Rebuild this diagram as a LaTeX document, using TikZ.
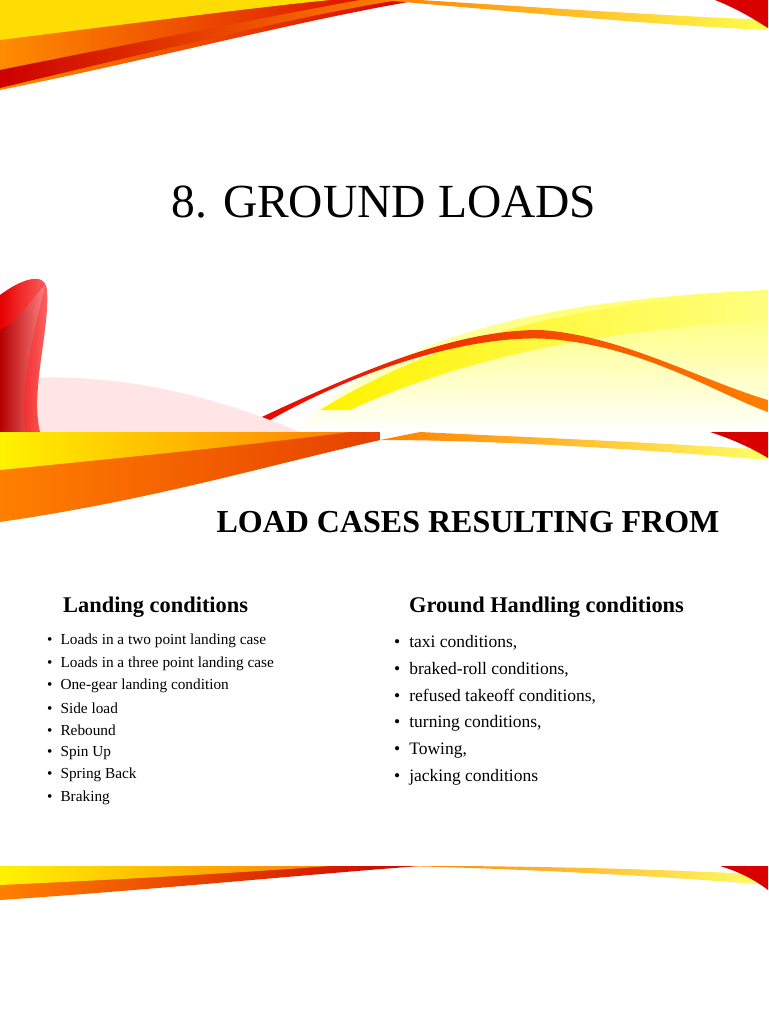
\documentclass[tikz,border=0pt]{standalone}
\usepackage{fontspec}
\setmainfont{Liberation Serif}
\begin{document}
\begin{tikzpicture}[x=1pt,y=-1pt,
  btxt/.style={anchor=west,inner sep=0pt,font=\fontsize{15.3}{17}\selectfont},
  rtxt/.style={anchor=west,inner sep=0pt,font=\fontsize{17.5}{19}\selectfont}]
\useasboundingbox (0,0) rectangle (768,1024);
\fill[white] (0,0) rectangle (768,1024);
% ---- slide 1 top swoosh
\shade[left color=orange!90!yellow,right color=red!85!black] (0,90) .. controls (150,60) and (300,20) .. (420,0) -- (0,0) -- cycle;
\shade[left color=red!80!black,right color=orange] (0,88) .. controls (200,40) and (330,10) .. (400,0) -- (360,0) .. controls (250,20) and (100,50) .. (0,70) -- cycle;
\fill[yellow!80!orange] (0,40) .. controls (120,25) and (250,8) .. (330,0) -- (0,0) -- cycle;
\shade[left color=orange,right color=yellow!70] (380,0) .. controls (500,10) and (650,25) .. (768,30) -- (768,20) .. controls (650,15) and (500,5) .. (420,0) -- cycle;
\fill[red!85!black] (715,0) .. controls (740,10) and (755,20) .. (768,28) -- (768,0) -- cycle;
% ---- slide 1 bottom
\shade[top color=yellow!60,bottom color=white] (290,432) .. controls (400,330) and (550,300) .. (768,290) -- (768,432) -- cycle;
\shade[left color=yellow!90!orange,right color=yellow!50] (320,410) .. controls (450,330) and (600,300) .. (768,292) -- (768,320) .. controls (620,330) and (480,350) .. (350,410) -- cycle;
\shade[left color=red!90!black,right color=orange] (250,432) .. controls (350,370) and (480,330) .. (560,340) .. controls (650,350) and (720,395) .. (768,412) -- (768,400) .. controls (700,380) and (620,335) .. (540,330) .. controls (450,330) and (350,375) .. (230,432) -- cycle;
\fill[red!10] (0,380) .. controls (100,370) and (200,390) .. (300,432) -- (0,432) -- cycle;
\shade[left color=red!90!black,right color=red!60] (0,295) .. controls (20,280) and (45,270) .. (47,290) .. controls (50,330) and (30,390) .. (40,432) -- (0,432) -- cycle;
\shade[left color=red!70!black,right color=red!50] (0,330) .. controls (20,320) and (30,300) .. (45,285) .. controls (35,330) and (20,380) .. (25,432) -- (0,432) -- cycle;
\node[inner sep=0pt,font=\fontsize{47.5}{50}\selectfont] (t1) at (384,202) {8. GROUND LOADS};
% ---- slide 2 top
\shade[left color=orange,right color=red!80!black] (0,522) .. controls (150,500) and (250,470) .. (380,440) -- (768,432) -- (0,432) -- cycle;
\fill[white] (380,440) .. controls (500,445) and (650,460) .. (768,462) -- (768,432) -- (380,432) -- cycle;
\shade[left color=yellow!90!orange,right color=orange] (0,470) .. controls (150,455) and (250,445) .. (350,432) -- (0,432) -- cycle;
\shade[left color=orange,right color=yellow!60] (380,440) .. controls (500,440) and (650,450) .. (768,460) -- (768,450) .. controls (650,442) and (500,436) .. (420,432) -- cycle;
\fill[red!85!black] (710,432) .. controls (735,440) and (755,450) .. (768,458) -- (768,432) -- cycle;
\node[inner sep=0pt,font=\fontsize{32}{34}\bfseries\selectfont] (t2) at (468,522) {LOAD CASES RESULTING FROM};
\node[anchor=west,inner sep=0pt,font=\fontsize{22.4}{24}\bfseries\selectfont] (h1) at (63,607) {Landing conditions};
\node[anchor=west,inner sep=0pt,font=\fontsize{22.4}{24}\bfseries\selectfont] (h2) at (409,607) {Ground Handling conditions};
\foreach \t [count=\i] in {Loads in a two point landing case,Loads in a three point landing case,One-gear landing condition,Side load,Rebound,Spin Up,Spring Back,Braking}
  \node[btxt] (l\i) at (47,619+22.3*\i) {\textbullet\hspace{8pt}\t};
\foreach \t [count=\i] in {taxi conditions\mbox{,},braked-roll conditions\mbox{,},refused takeoff conditions\mbox{,},turning conditions\mbox{,},Towing\mbox{,},jacking conditions}
  \node[rtxt] (r\i) at (394,616+26.9*\i) {\textbullet\hspace{9pt}\t};
% ---- slide 2 bottom
\shade[left color=orange,right color=red!80!black] (0,900) .. controls (150,890) and (300,875) .. (420,866) -- (0,866) -- cycle;
\shade[left color=yellow!90!orange,right color=orange] (0,885) .. controls (150,878) and (250,872) .. (330,866) -- (0,866) -- cycle;
\shade[left color=orange,right color=yellow!60] (400,866) .. controls (500,868) and (650,875) .. (768,885) -- (768,875) .. controls (650,868) and (500,866) .. (440,866) -- cycle;
\fill[red!85!black] (720,866) .. controls (740,872) and (755,880) .. (768,890) -- (768,866) -- cycle;
\end{tikzpicture}
\end{document}
